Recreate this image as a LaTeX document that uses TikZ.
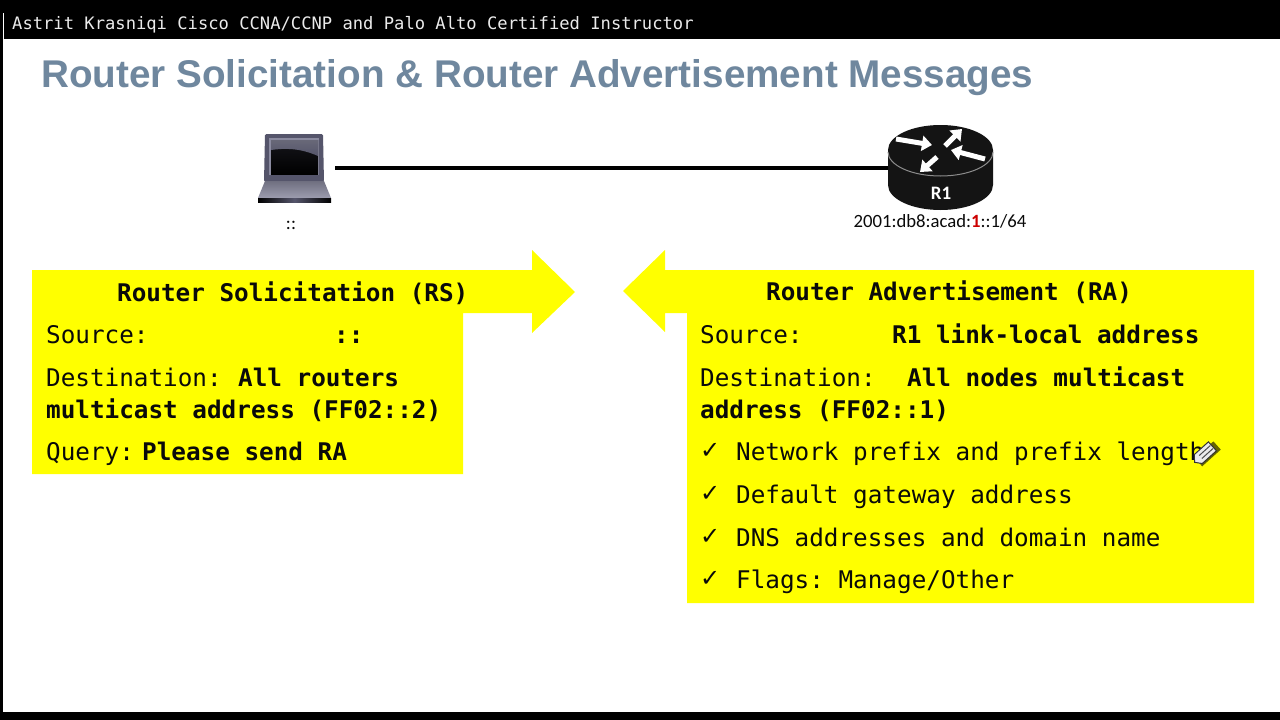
\documentclass[tikz,border=0pt]{standalone}
\usepackage{fontspec}
\setmainfont{Carlito}
\newfontfamily\titlefont{Liberation Sans}
\newfontfamily\codefont{DejaVu Sans Mono}
\newfontfamily\symfont{DejaVu Sans}
\usetikzlibrary{arrows.meta}
\definecolor{titleblue}{HTML}{6F879E}
\definecolor{boxyellow}{HTML}{FFFF00}
\definecolor{inkblack}{HTML}{0A0A0A}
\definecolor{lapdark}{HTML}{55556B}
\definecolor{lapmid}{HTML}{8B8BA0}
\definecolor{routerblack}{HTML}{141414}
\tikzset{
  x=1pt,y=-1pt,
  bartext/.style={anchor=base west,inner sep=0,text=white!92!black,font=\codefont\frenchspacing\fontsize{17.15}{20}\selectfont},
  titletext/.style={anchor=base west,inner sep=0,text=titleblue,font=\titlefont\bfseries\fontsize{38.65}{44}\selectfont},
  plain/.style={anchor=base west,inner sep=0,text=inkblack,font=\codefont\frenchspacing\fontsize{24.3}{28}\selectfont},
  strong/.style={anchor=base west,inner sep=0,text=inkblack,font=\codefont\bfseries\frenchspacing\fontsize{24.3}{28}\selectfont},
  tick/.style={anchor=base west,inner sep=0,text=inkblack,font=\symfont\bfseries\fontsize{24}{28}\selectfont},
  label/.style={inner sep=0,text=inkblack,font=\fontsize{18.7}{22}\selectfont},
  hub/.style={inner sep=0,draw=none,minimum height=70pt},
  routerarrow/.style={white,line width=5pt,-{Triangle[length=10pt,width=15pt]}},
  link/.style={black,line width=3.6pt},
}
\begin{document}
\begin{tikzpicture}
\useasboundingbox (0,0) rectangle (1280,720);
\fill[white] (0,0) rectangle (1280,720);
% frame
\fill[black] (0,0) rectangle (1280,39);
\fill[black] (0,712) rectangle (1280,720);
\fill[black] (0,0) rectangle (3,720);
\fill[white] (3,13) rectangle (4,39);
\node[bartext] (bar) at (12,29) {Astrit Krasniqi Cisco CCNA/CCNP and Palo Alto Certified Instructor};
\node[titletext] (title) at (41,87) {Router Solicitation \& Router Advertisement Messages};
% yellow call-outs
\fill[boxyellow] (32,270) -- (532,270) -- (532,250) -- (575,292) -- (532,333) -- (532,313) -- (463,313) -- (463,474) -- (32,474) -- cycle;
\fill[boxyellow] (1254,270) -- (665,270) -- (665,250) -- (623,291) -- (665,332) -- (665,313) -- (687,313) -- (687,603) -- (1254,603) -- cycle;
% anchors for the devices
\node[hub,minimum width=78pt] (laptop) at (296,168) {};
\node[hub,minimum width=105pt] (router) at (940.5,168) {};
\draw[link] (laptop.east) -- (router.west);
% laptop
\fill[lapdark,rounded corners=1.5pt] (265,134) -- (323,134) -- (324,182) -- (264,182) -- cycle;
\fill[lapmid] (269,138) rectangle (319,175);
\shade[top color=black!75!lapdark,bottom color=black] (271,140) rectangle (318,174);
\shade[top color=lapmid!75!black,bottom color=lapdark] (271,140) -- (318,140) -- (318,156) .. controls (300,148) and (285,148) .. (271,150) -- cycle;
\shade[top color=lapmid!80!black,bottom color=lapmid!85!white] (265,181) -- (324,181) -- (331,198) -- (258,198) -- cycle;
\shade[left color=black,right color=black,middle color=lapdark] (258,198) rectangle (331,202.5);
% router
\fill[routerblack] (888,150) -- (888,185) arc[start angle=180,end angle=360,x radius=52.5pt,y radius=25pt] -- (993,150) -- cycle;
\fill[routerblack] (940.5,150) ellipse[x radius=52.5pt,y radius=25pt];
\draw[black!45,line width=1pt] (888,152) arc[start angle=180,end angle=360,x radius=52.5pt,y radius=24pt];
\draw[routerarrow] (896,139) -- (932,145);
\draw[routerarrow] (945,146) -- (962,129);
\draw[routerarrow] (985,159) -- (951,150);
\draw[routerarrow] (937,157) -- (920,172);
\node[inner sep=0,text=white,font=\bfseries\fontsize{19}{22}\selectfont] (rname) at (941,193) {R1};
\node[label] (raddr) at (940,221) {2001:db8:acad:\textcolor{red!80!black}{\textbf{1}}::1/64};
\node[label] (lapaddr) at (291,225) {::};
% left box
\node[strong] (rstitle) at (117,301) {Router Solicitation (RS)};
\node[plain] (rssrc) at (46,343) {Source:};
\node[strong] (rssrcv) at (334,343) {::};
\node[plain] (rsdst) at (46,386) {Destination:};
\node[strong] (rsdstv) at (238,386) {All routers};
\node[strong] (rsdstw) at (46,418) {multicast address (FF02::2)};
\node[plain] (rsq) at (46,460) {Query:};
\node[strong] (rsqv) at (142,460) {Please send RA};
% right box
\node[strong] (ratitle) at (766,300) {Router Advertisement (RA)};
\node[plain] (rasrc) at (700,343) {Source:};
\node[strong] (rasrcv) at (892,343) {R1 link-local address};
\node[plain] (radst) at (700,386) {Destination:};
\node[strong] (radstv) at (907,386) {All nodes multicast};
\node[strong] (radstw) at (700,418) {address (FF02::1)};
\node[tick] (t1) at (700,458) {✓};
\node[plain] (l1) at (736,460) {Network prefix and prefix length};
\node[tick] (t2) at (700,501) {✓};
\node[plain] (l2) at (736,503) {Default gateway address};
\node[tick] (t3) at (700,544) {✓};
\node[plain] (l3) at (736,546) {DNS addresses and domain name};
\node[tick] (t4) at (700,586) {✓};
\node[plain] (l4) at (736,588) {Flags: Manage/Other};
% pointer
\begin{scope}[shift={(1205,453)},rotate=42]
\fill[black!60!boxyellow] (-11,-3) rectangle (14,8);
\fill[white!92!black,draw=black!80,line width=1pt] (-14,0) -- (-9,-6) -- (10,-6) -- (10,6) -- (-9,6) -- cycle;
\draw[black!70,line width=1pt] (-6,-2) -- (9,-2) (-6,2) -- (9,2);
\end{scope}
\end{tikzpicture}
\end{document}
